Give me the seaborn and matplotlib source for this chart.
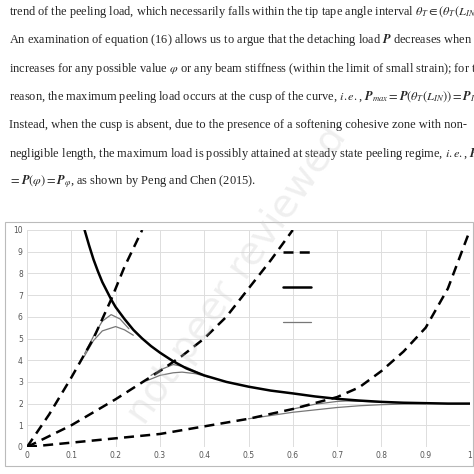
import matplotlib
matplotlib.use("Agg")
import matplotlib.pyplot as plt
from matplotlib.lines import Line2D
from matplotlib.patches import Rectangle
import seaborn as sns

sns.set_style("white")
plt.rcParams['font.family'] = ['Liberation Serif', 'DejaVu Serif']
plt.rcParams['mathtext.fontset'] = 'stix'

# solid envelope curve
env_x = [0.13, 0.14, 0.15, 0.16, 0.17, 0.18, 0.19, 0.2, 0.22, 0.24, 0.26, 0.28, 0.3, 0.33, 0.36, 0.4, 0.45, 0.5, 0.55, 0.6, 0.65, 0.7, 0.75, 0.8, 0.85, 0.9, 0.95, 1.0]
env_y = [10.0, 9.3, 8.65, 8.1, 7.6, 7.2, 6.8, 6.45, 5.9, 5.4, 5.0, 4.65, 4.35, 3.95, 3.62, 3.3, 3.0, 2.78, 2.6, 2.47, 2.33, 2.22, 2.14, 2.08, 2.04, 2.02, 2.0, 2.0]

# dashed curves
d1_x = [0.0, 0.05, 0.1, 0.15, 0.19, 0.22, 0.26]
d1_y = [0.0, 1.5, 3.2, 5.0, 6.8, 8.3, 10.0]
d2_x = [0.0, 0.1, 0.2, 0.3, 0.35, 0.4, 0.45, 0.5, 0.55, 0.6]
d2_y = [0.0, 1.0, 2.2, 3.5, 4.2, 5.0, 6.0, 7.3, 8.6, 10.0]
d3_x = [0.0, 0.1, 0.2, 0.3, 0.4, 0.5, 0.6, 0.7, 0.75, 0.8, 0.85, 0.9, 0.95, 1.0]
d3_y = [0.0, 0.2, 0.4, 0.6, 0.95, 1.3, 1.75, 2.3, 2.75, 3.5, 4.4, 5.5, 7.3, 10.0]

# thin grey curves (finite cohesive zone)
g1_x = [0.13, 0.15, 0.17, 0.19, 0.21, 0.23]
g1_y = [4.3, 5.1, 5.8, 6.1, 5.9, 5.45]
g2_x = [0.13, 0.15, 0.17, 0.2, 0.22, 0.24]
g2_y = [4.2, 4.9, 5.35, 5.55, 5.4, 5.15]
g3_x = [0.28, 0.3, 0.33, 0.36, 0.4]
g3_y = [3.3, 3.55, 3.8, 3.68, 3.3]
g4_x = [0.27, 0.3, 0.33, 0.35, 0.38, 0.41]
g4_y = [3.05, 3.3, 3.42, 3.45, 3.38, 3.22]
g5_x = [0.6, 0.65, 0.7, 0.72, 0.76, 0.8, 0.85, 0.9]
g5_y = [1.75, 1.97, 2.1, 2.12, 2.1, 2.07, 2.03, 2.01]
g6_x = [0.5, 0.6, 0.7, 0.75, 0.8, 0.85, 0.9]
g6_y = [1.3, 1.6, 1.82, 1.9, 1.95, 1.98, 2.0]

text_lines = [
    r"trend of the peeling load, which necessarily falls within the tip tape angle interval $\theta_T \in (\theta_T(L_{IN}),\varphi]$",
    r"An examination of equation (16) allows us to argue that the detaching load $\boldsymbol{P}$ decreases when $\theta_T$",
    r"increases for any possible value $\varphi$ or any beam stiffness (within the limit of small strain); for this",
    r"reason, the maximum peeling load occurs at the cusp of the curve, $i.e.$, $\boldsymbol{P}_{max} = \boldsymbol{P}(\theta_T(L_{IN})) = \boldsymbol{P}_{IN}$.",
    r"Instead, when the cusp is absent, due to the presence of a softening cohesive zone with non-",
    r"negligible length, the maximum load is possibly attained at steady state peeling regime, $i.e.$, $\boldsymbol{P}_{max}$",
    r"$= \boldsymbol{P}(\varphi) = \boldsymbol{P}_{\varphi}$, as shown by Peng and Chen (2015).",
]

fig = plt.figure(figsize=(4.74, 4.74), dpi=100)
for i, t in enumerate(text_lines):
    fig.text(9 / 474, 1 - (12 + i * 28.3) / 474, t, fontsize=8.9, va='center', ha='left')

fig.patches.append(Rectangle((5 / 474, 8 / 474), 468 / 474, 244 / 474, transform=fig.transFigure,
                             fill=False, edgecolor='#bbbbbb', lw=0.8))

ax = fig.add_axes([27 / 474, 27 / 474, 443 / 474, 217 / 474])
for gx, gy in [(g1_x, g1_y), (g2_x, g2_y), (g3_x, g3_y), (g4_x, g4_y), (g5_x, g5_y), (g6_x, g6_y)]:
    sns.lineplot(x=gx, y=gy, ax=ax, color='#777777', lw=0.9, sort=False)
for dx, dy in [(d1_x, d1_y), (d2_x, d2_y), (d3_x, d3_y)]:
    sns.lineplot(x=dx, y=dy, ax=ax, color='black', lw=1.8, linestyle=(0, (4, 2.5)), sort=False)
sns.lineplot(x=env_x, y=env_y, ax=ax, color='black', lw=1.8, sort=False)

ax.set_xlim(0, 1)
ax.set_ylim(0, 10)
ax.set_xticks([i / 10 for i in range(11)])
ax.set_xticklabels(['0'] + [f'0.{i}' for i in range(1, 10)] + ['1'])
ax.set_yticks(range(11))
ax.grid(True, color='#dddddd', lw=0.7)
for s in ax.spines.values():
    s.set_visible(False)
ax.tick_params(labelsize=5.5, colors='#555555', length=0, pad=3)
for lab in ax.get_xticklabels() + ax.get_yticklabels():
    lab.set_family('DejaVu Sans')

handles = [Line2D([], [], color='black', lw=1.8, linestyle=(0, (4, 2.5))),
           Line2D([], [], color='black', lw=1.8),
           Line2D([], [], color='#777777', lw=0.9)]
ax.legend(handles, ['', '', ''], loc='upper left', bbox_to_anchor=(0.55, 0.98), frameon=False,
          handlelength=2.0, labelspacing=1.6)

fig.text(0.5, 0.42, 'not peer reviewed', fontsize=28, color='#cccccc', alpha=0.3,
         rotation=55, ha='center', va='center', family='DejaVu Sans')

fig.savefig('out.png', dpi=100)
